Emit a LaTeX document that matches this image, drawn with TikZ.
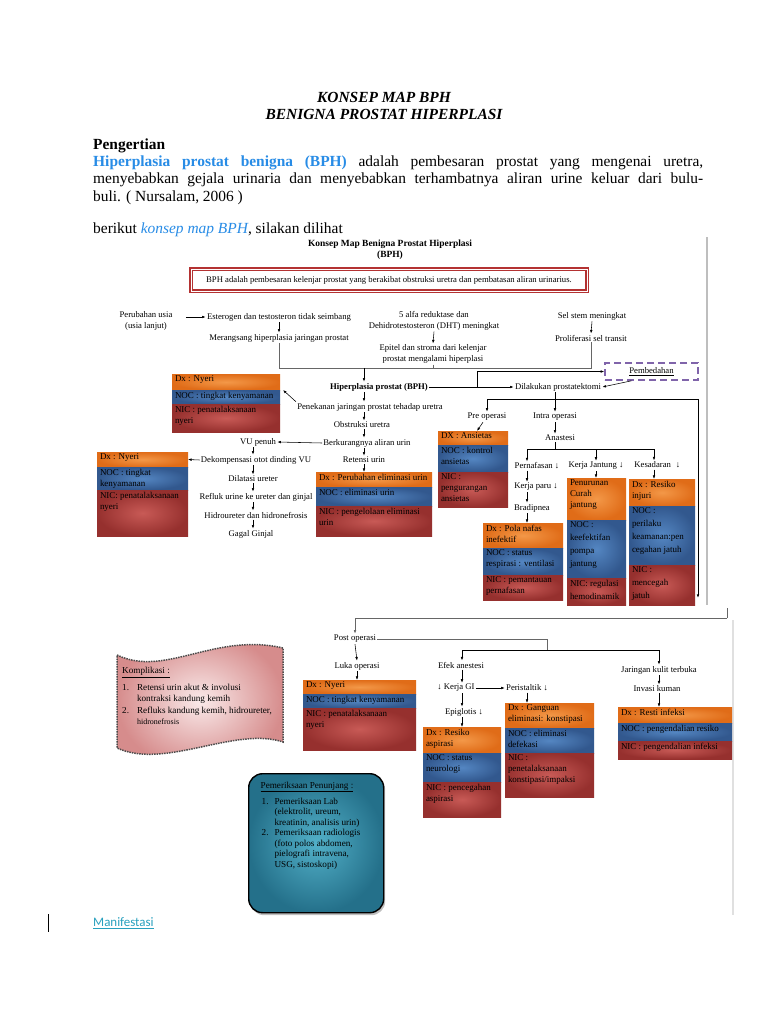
\documentclass[tikz,border=0pt]{standalone}
\usepackage{fontspec}
\setmainfont{Liberation Serif}
\newfontfamily\manfont{Carlito}
\usetikzlibrary{arrows.meta,positioning,shadows}
\definecolor{OrIn}    {RGB}{243,152,72}
\definecolor{OrOut}   {RGB}{224,108,24}
\definecolor{BlIn}    {RGB}{84,134,194}
\definecolor{BlOut}   {RGB}{50,88,142}
\definecolor{RdIn}    {RGB}{200,90,86}
\definecolor{RdOut}   {RGB}{150,48,46}
\definecolor{DefRed}  {RGB}{180,50,50}
\definecolor{BedahPurple}{RGB}{128,100,170}
\definecolor{KompIn}  {RGB}{250,234,234}
\definecolor{KompOut} {RGB}{214,140,140}
\definecolor{PenIn}   {RGB}{82,176,200}
\definecolor{PenOut}  {RGB}{36,112,138}
\definecolor{LinkBlue}{RGB}{40,140,230}
\definecolor{ManTeal} {RGB}{40,160,190}
\definecolor{FrameGray}{RGB}{190,190,190}
\newcommand\rowtext[3]{\parbox[c][#2bp][t]{\dimexpr#1bp-6bp\relax}{\fontsize{9}{11}\selectfont\raggedright\vspace{2bp}#3}}

\begin{document}
\begin{tikzpicture}[x=1bp,y=-1bp,
    every node/.style={font=\fontsize{8.7}{10.5}\selectfont},
    txt/.style={inner sep=1.2bp,align=center},
    arr/.style={-{Latex[length=3.6bp,width=2.6bp]},line width=0.55bp},
    gline/.style={black!60,line width=1bp},
    rowbox/.style={anchor=north west,inner xsep=3bp,inner ysep=0pt,outer sep=0pt},
    orow/.style={inner color=OrIn,outer color=OrOut},
    brow/.style={inner color=BlIn,outer color=BlOut},
    rrow/.style={inner color=RdIn,outer color=RdOut}]
  \useasboundingbox (0,0) rectangle (768,1024);
  \fill[white] (0,0) rectangle (768,1024);

  % page text
  \node[font=\fontsize{15.5}{17}\selectfont\bfseries\itshape,align=center] (head) at (384,105.5)
    {KONSEP MAP BPH\\BENIGNA PROSTAT HIPERPLASI};
  \node[anchor=west,inner sep=0,font=\fontsize{15.5}{17.5}\selectfont\bfseries] (peng) at (93,146) {Pengertian};
  \node[anchor=west,inner sep=0,font=\fontsize{15.5}{17.5}\selectfont] (para) at (93,180) {\parbox{610bp}{%
    \makebox[610bp][s]{\textcolor{LinkBlue}{\bfseries Hiperplasia prostat benigna (BPH)} adalah pembesaran prostat yang mengenai uretra,}\\
    \makebox[610bp][s]{menyebabkan gejala urinaria dan menyebabkan terhambatnya aliran urine keluar dari bulu-}\\
    buli. ( Nursalam, 2006 )}};
  \node[anchor=west,inner sep=0,font=\fontsize{15.5}{17.5}\selectfont] (lihat) at (93,230)
    {berikut \textcolor{LinkBlue}{\itshape konsep map BPH}, silakan dilihat};

  % picture frames
  \draw[FrameGray,line width=1.6bp] (707,237) -- (707,605);
  \draw[black!12,line width=1.2bp] (733,620) -- (733,915);

  % header of the map
  \node[font=\fontsize{9.5}{11}\selectfont\bfseries,align=center,inner sep=0] (maptitle) at (390,249.5)
    {Konsep Map Benigna Prostat Hiperplasi\\(BPH)};
  \node[draw=DefRed,line width=1.1bp,double=white,double distance=0.9bp,
        minimum width=396bp,minimum height=22bp,inner sep=0] (defbox) at (389,280)
    {BPH adalah pembesaran kelenjar prostat yang berakibat obstruksi uretra dan pembatasan aliran urinarius.};

  % causes
  \node[txt] (usia)     at (146,321) {Perubahan usia\\(usia lanjut)};
  \node[txt] (ester)    at (279,317) {Esterogen dan testosteron tidak seimbang};
  \node[txt] (rangsang) at (279,338) {Merangsang hiperplasia jaringan prostat};
  \node[txt] (alfa)     at (434,321) {5 alfa reduktase dan\\Dehidrotestosteron (DHT) meningkat};
  \node[txt] (epitel)   at (433,354) {Epitel dan stroma dari kelenjar\\prostat mengalami hiperplasi};
  \node[txt] (selstem)  at (592,316) {Sel stem meningkat};
  \node[txt] (prolif)   at (591,338) {Proliferasi sel transit};

  % main chain
  \node[txt,font=\fontsize{8.7}{10.5}\selectfont\bfseries] (bph) at (379,387) {Hiperplasia prostat (BPH)};
  \node[txt] (tekan)     at (370,407) {Penekanan jaringan prostat tehadap uretra};
  \node[txt] (obstruksi) at (362,425) {Obstruksi uretra};
  \node[txt] (kurang)    at (367,443) {Berkurangnya aliran urin};
  \node[txt] (retensi)   at (364,460) {Retensi urin};
  \node[txt] (vupenuh)   at (258,442) {VU penuh};
  \node[txt] (dekomp)    at (256,460) {Dekompensasi otot dinding VU};
  \node[txt] (dilatasi)  at (253,479) {Dilatasi ureter};
  \node[txt] (refluk)    at (256,497) {Refluk urine ke ureter dan ginjal};
  \node[txt] (hidro)     at (256,515) {Hidroureter dan hidronefrosis};
  \node[txt] (gagal)     at (251,534) {Gagal Ginjal};

  % operation branch
  \node[txt] (ektomi) at (558,387) {Dilakukan prostatektomi};
  \node[draw=BedahPurple,line width=1.6bp,dash pattern=on 7bp off 4bp,
        minimum width=93bp,minimum height=17bp,inner sep=0] (bedah) at (651.5,371.5) {\underline{Pembedahan}};
  \node[txt] (preop)    at (487,417) {Pre operasi};
  \node[txt] (intraop)  at (555,417) {Intra operasi};
  \node[txt] (anastesi) at (560,438) {Anastesi};
  \node[txt] (nafas)    at (537,466) {Pernafasan ↓};
  \node[txt] (paru)     at (536,487) {Kerja paru ↓};
  \node[txt] (bradi)    at (532,508) {Bradipnea};
  \node[txt] (jantung)  at (596,466) {Kerja Jantung ↓};
  \node[txt,anchor=west] (sadar) at (633,465) {Kesadaran\hspace{5bp}↓};

  % post operation
  \node[txt] (postop) at (355,639) {Post operasi};
  \node[txt] (luka)   at (357,666) {Luka operasi};
  \node[txt] (efek)   at (461,665) {Efek anestesi};
  \node[txt] (gi)     at (456,688) {↓ Kerja GI};
  \node[txt] (peri)   at (527,688) {Peristaltik ↓};
  \node[txt] (epi)    at (464,712) {Epiglotis ↓};
  \node[txt] (kulit)  at (659,670) {Jaringan kulit terbuka};
  \node[txt] (invasi) at (657,689) {Invasi kuman};

  % Dx / NOC / NIC boxes
  \foreach \nm/\x/\y/\w/\ha/\hb/\hc/\ta/\tb/\tc in {
      b1/172/374/108/16/14/28/{Dx : Nyeri}/{NOC : tingkat kenyamanan}/{NIC : penatalaksanaan\\nyeri},
      b2/97/452/91/15/23/46/{Dx : Nyeri}/{NOC : tingkat\\kenyamanan}/{NIC: penatalaksanaan\\nyeri},
      b3/316/472/116/15/19/30/{Dx : Perubahan eliminasi urin}/{NOC : eliminasi urin}/{NIC : pengelolaan eliminasi\\urin},
      b4/438/431/70/14/27/35/{DX : Ansietas}/{NOC : kontrol\\ansietas}/{NIC :\\pengurangan\\ansietas},
      b5/483/523/80/25/27/25/{Dx : Pola nafas\\inefektif}/{NOC : status\\respirasi : ventilasi}/{NIC : pemantauan\\pernafasan},
      b6/567/478/59/42/58/27/{Penurunan\\Curah\\jantung}/{NOC :\\[2bp]keefektifan\\[2bp]pompa\\[2bp]jantung}/{NIC: regulasi\\[2bp]hemodinamik},
      b7/629/479/66/27/59/40/{Dx : Resiko\\injuri}/{NOC :\\[2bp]perilaku\\[2bp]keamanan:pen\\[2bp]cegahan jatuh}/{NIC :\\[2bp]mencegah\\[2bp]jatuh},
      b8/303/680/113/14/14/42/{Dx : Nyeri}/{NOC : tingkat kenyamanan}/{NIC : penatalaksanaan\\nyeri},
      b9/423/727/78/26/29/35/{Dx : Resiko\\aspirasi}/{NOC : status\\neurologi}/{NIC : pencegahan\\aspirasi},
      b10/505/703/89/25/25/44/{Dx : Ganguan\\eliminasi: konstipasi}/{NOC : eliminasi\\defekasi}/{NIC :\\penetalaksanaan\\konstipasi/impaksi},
      b11/618/707/114/16/18/18/{Dx : Resti infeksi}/{NOC : pengendalian resiko}/{NIC : pengendalian infeksi}}{
    \node[rowbox,orow] (\nm-dx)  at (\x,\y)             {\rowtext{\w}{\ha}{\ta}};
    \node[rowbox,brow] (\nm-noc) at (\nm-dx.south west)  {\rowtext{\w}{\hb}{\tb}};
    \node[rowbox,rrow] (\nm-nic) at (\nm-noc.south west) {\rowtext{\w}{\hc}{\tc}};
  }

  % connectors, causes
  \coordinate (hipJ) at (364,368);
  \draw[arr] ([xshift=12bp]usia.east |- ester) -- (ester.west);
  \draw[arr] (ester.south) -- (rangsang.north);
  \draw[arr] (alfa.south) -- (epitel.north);
  \draw[arr] (selstem.south) -- (prolif.north);
  \draw[gline] (rangsang.south) -- (rangsang.south |- hipJ) -- (prolif.south |- hipJ) -- (prolif.south);
  \draw[gline] (epitel.south) -- (epitel.south |- hipJ);
  \draw[arr] (hipJ) -- (hipJ |- bph.north);

  % connectors, main chain
  \draw[arr] (bph.south -| retensi) -- (tekan.north -| retensi);
  \draw[arr] (tekan.south -| retensi) -- (obstruksi.north -| retensi);
  \draw[arr] (obstruksi.south -| retensi) -- (kurang.north -| retensi);
  \draw[arr] (kurang.south -| retensi) -- (retensi.north);
  \draw[arr] (retensi.south) -- (retensi.south |- b3-dx.north);
  \draw[arr] (tekan.north west) -- ([xshift=3bp]b1-noc.north east);
  \draw[arr] (kurang.west) -- (vupenuh.east);
  \draw[arr] (vupenuh.south -| dilatasi) -- (dekomp.north -| dilatasi);
  \draw[arr] (dekomp.west) -- (b2-dx.east);
  \draw[arr] (dekomp.south -| dilatasi) -- (dilatasi.north);
  \draw[arr] (dilatasi.south) -- (refluk.north -| dilatasi);
  \draw[arr] (refluk.south -| dilatasi) -- (hidro.north -| dilatasi);
  \draw[arr] (hidro.south -| dilatasi) -- (gagal.north -| dilatasi);

  % connectors, operation
  \coordinate (split) at (477,387);
  \coordinate (opR)   at (698,399);
  \coordinate (opEnd) at (698,598);
  \coordinate (anaL)  at (527,449);
  \coordinate (anaR)  at (654,449);
  \draw[line width=0.55bp] (bph.east) -- (split);
  \draw[arr] (split) |- (bedah.west);
  \draw[arr] (split) -- (ektomi.west);
  \draw[arr] ([xshift=-20bp]bedah.south) -- (ektomi.east);
  \draw[arr] (ektomi.south -| intraop) -- (intraop.north);
  \draw[arr,line width=0.8bp] (opR) -| (preop.north);
  \draw[arr,line width=0.8bp] (opR) -- (opEnd);
  \draw[arr] ([xshift=-4bp]preop.south) -- ([xshift=4bp]b4-dx.north);
  \draw[arr] (intraop.south) -- (intraop.south |- anastesi.north);
  \draw[line width=0.55bp] (intraop.south |- anastesi.south) -- (intraop.south |- anaL);
  \draw[line width=0.55bp] (anaL) -- (anaR);
  \draw[arr] (anaL) -- (anaL |- nafas.north);
  \draw[arr] (anaL -| jantung) -- (jantung.north);
  \draw[arr] (anaR) -- (anaR |- sadar.north);
  \draw[arr] (anaL |- nafas.south) -- (anaL |- paru.north);
  \draw[arr] (anaL |- paru.south) -- (anaL |- bradi.north);
  \draw[arr] (anaL |- bradi.south) -- (anaL |- b5-dx.north);
  \draw[arr] (jantung.south) -- (jantung.south |- b6-dx.north);
  \draw[arr] (anaR |- sadar.south) -- (anaR |- b7-dx.north);

  % connectors, post operation
  \coordinate (upR)   at (727,608);
  \coordinate (upJ)   at (727,618);
  \coordinate (postj) at (547,650);
  \coordinate (postL) at (462,650);
  \coordinate (postR) at (659,650);
  \draw[gline] (upR) -- (upJ);
  \draw[arr,gline] (upJ) -| (postop.north);
  \draw[gline] (postop.east) -| (postj);
  \draw[line width=0.55bp] (postL) -- (postR);
  \draw[arr] (postL) -- (postL |- efek.north);
  \draw[arr] (postR) -- (kulit.north);
  \draw[arr] (postop.south) -- (luka.north);
  \draw[arr] (luka.south) -- (luka.south |- b8-dx.north);
  \draw[arr] (postL |- efek.south) -- (postL |- gi.north);
  \draw[arr] (gi.east) -- (peri.west);
  \draw[arr] (postL |- gi.south) -- (postL |- epi.north);
  \draw[arr] (postL |- epi.south) -- (postL |- b9-dx.north);
  \draw[arr] (peri.south) -- (peri.south |- b10-dx.north);
  \draw[arr] (kulit.south) -- (kulit.south |- invasi.north);
  \draw[arr] (kulit.south |- invasi.south) -- (kulit.south |- b11-dx.north);

  % komplikasi
  \path[draw=black!70,densely dotted,line width=1.5bp,inner color=KompIn,outer color=KompOut]
    (117,655) .. controls (165,678) and (215,632) .. (283,648) -- (283,742)
    .. controls (235,726) and (165,770) .. (117,748) -- cycle;
  \node[anchor=north west,align=left,inner sep=0,font=\fontsize{9.2}{10.5}\selectfont] (komp) at (122,667)
    {\underline{Komplikasi :}\\[5bp]
     \begin{tabular}{@{}l@{\hspace{8bp}}l@{}}
       1. & Retensi urin akut \& involusi\\
          & kontraksi kandung kemih\\[2bp]
       2. & Refluks kandung kemih, hidroureter,\\
          & {\fontsize{8}{9}\selectfont hidronefrosis}
     \end{tabular}};

  % pemeriksaan penunjang
  \node[rounded corners=14bp,draw=black,line width=1.4bp,inner color=PenIn,outer color=PenOut,
        drop shadow={shadow xshift=1.5bp,shadow yshift=-2.5bp,fill=black!50},
        anchor=north west,inner sep=0pt,font=\fontsize{9.2}{10.5}\selectfont] (periksa) at (248,773)
    {\parbox[c][139bp][t]{135bp}{\vspace{8bp}\hspace*{12bp}\underline{Pemeriksaan Penunjang :}\par\vspace{4bp}
      \hspace*{13bp}\begin{tabular}[t]{@{}l@{\hspace{6bp}}l@{}}
        1. & Pemeriksaan Lab\\
           & (elektrolit, ureum,\\
           & kreatinin, analisis urin)\\
        2. & Pemeriksaan radiologis\\
           & (foto polos abdomen,\\
           & pielografi intravena,\\
           & USG, sistoskopi)
      \end{tabular}}};

  % footer
  \draw[line width=1bp] (48,914) -- (48,932);
  \node[anchor=west,inner sep=0,text=ManTeal,font=\manfont\fontsize{13}{15}\selectfont] (manif) at (93,923)
    {\underline{Manifestasi}};
\end{tikzpicture}
\end{document}
